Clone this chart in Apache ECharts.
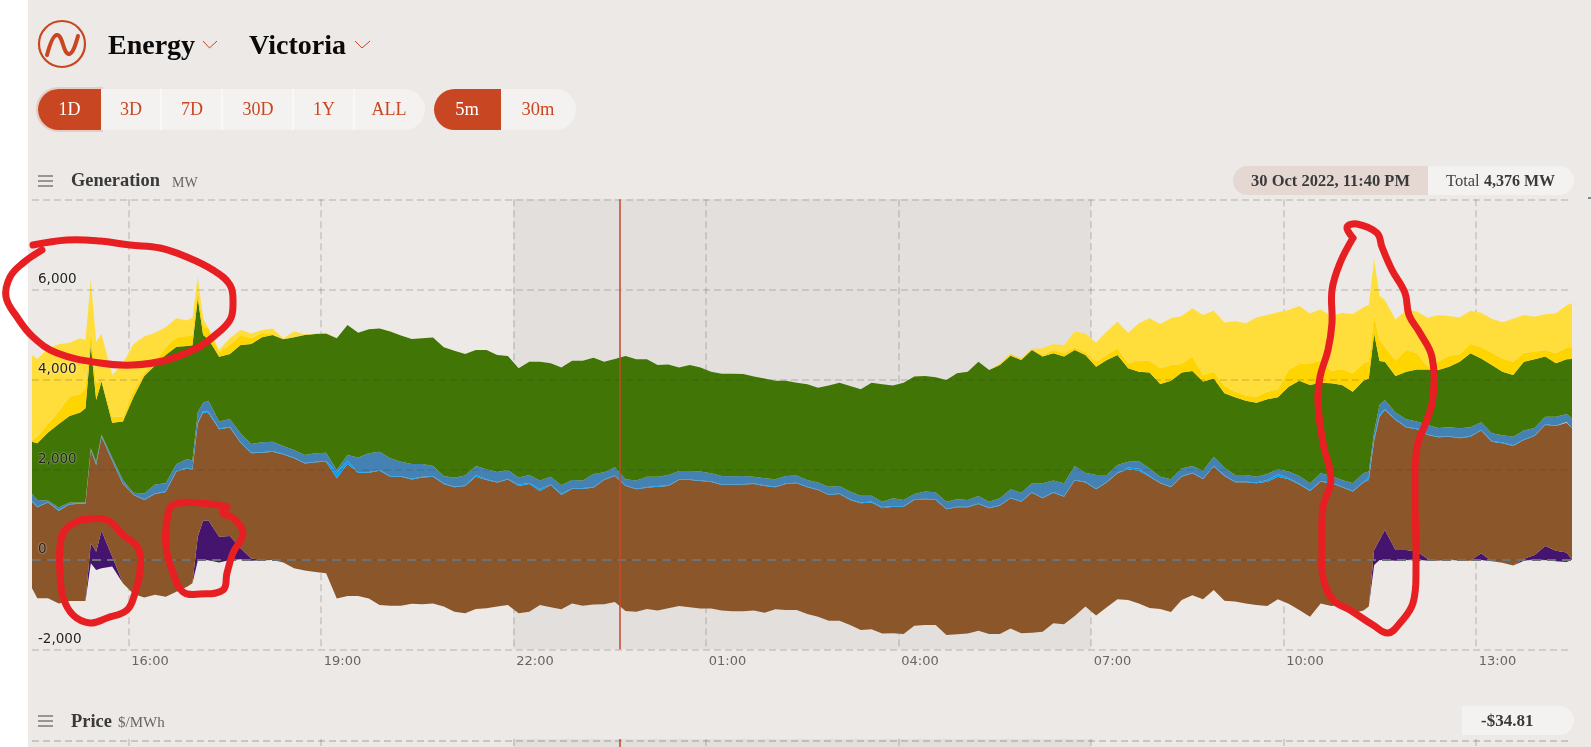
<!DOCTYPE html>
<html lang="en">
  <head>
    <meta charset="UTF-8" />
    <title>Energy Victoria</title>
    <style>
      html,
      body {
        margin: 0;
        width: 100%;
        height: 100%;
        background: #fff;
        overflow: hidden;
      }
      #chart {
        width: 1591px;
        height: 747px;
      }
    </style>
    <script src="https://cdn.jsdelivr.net/npm/echarts@6/dist/echarts.min.js"></script>
  </head>
  <body>
    <div id="chart"></div>
    <script>
      // 5 minute slots from 14:30 to 14:30 the next day
      const slots = []
      for (let i = 0; i <= 288; i++) {
        const m = (14 * 60 + 30 + i * 5) % 1440
        slots.push(String(Math.floor(m / 60)).padStart(2, '0') + ':' + String(m % 60).padStart(2, '0'))
      }
      // values were read every 10 minutes, on the odd slots, plus both ends and around the three spikes
      const readSlots = [0, 10, 12, 30, 32, 250, 252, 288]
      for (let i = 1; i < 288; i += 2) readSlots.push(i)
      readSlots.sort((a, b) => a - b)

      // lower edge of the whole stack (MW)
      const loadEdge = [
        -645, -867, -867, -980, -925, -925, -925, -90, -235, -200, -160, -530, -770, -850, -790, -830, -720, -610, -530, -30, -10, -20, -70, -15, 0, -30, -15, -15, -70, -200, -250, -280, -310, -870, -815, -815, -870, -1015, -1030,
        -1030, -990, -1000, -980, -1050, -1165, -1200, -1105, -1090, -1050, -1015, -1200, -1165, -1015, -1065, -1110, -980, -1030, -1005, -1000, -950, -1150, -1165, -1105, -1140, -1090, -1035, -1065, -1095, -1095, -1140, -1155, -1155, -1140, -1185, -1110, -1125, -1125,
        -1215, -1275, -1365, -1365, -1460, -1570, -1555, -1650, -1645, -1660, -1475, -1460, -1460, -1680, -1665, -1650, -1585, -1660, -1660, -1540, -1645, -1630, -1610, -1420, -1445, -1260, -1050, -1250, -1065, -890, -905, -980, -1080, -1105, -1170, -905, -800,
        -890, -680, -920, -940, -980, -1015, -1035, -890, -990, -1125, -1275, -980, -1035, -1015, -1200, -1140, -1050, -125, -15, -15, -30, -15, 0, -30, -30, 0, -30, -30, -15, -45, -75, -140, -30, 0, -15, -45, -60, -30
      ]
      // imports thickness
      const imports = [
        0, 0, 0, 0, 0, 0, 0, 445, 405, 835, 220, 0, 0, 0, 0, 0, 0, 0, 0, 530, 870, 880, 570, 535, 245, 50, 0, 0, 0, 0, 0, 0, 0, 0, 0, 0, 0, 0, 0,
        0, 0, 0, 0, 0, 0, 0, 0, 0, 0, 0, 0, 0, 0, 0, 0, 0, 0, 0, 0, 0, 0, 0, 0, 0, 0, 0, 0, 0, 0, 0, 0, 0, 0, 0, 0, 0, 0,
        0, 0, 0, 0, 0, 0, 0, 0, 0, 0, 0, 0, 0, 0, 0, 0, 0, 0, 0, 0, 0, 0, 0, 0, 0, 0, 0, 0, 0, 0, 0, 0, 0, 0, 0, 0, 0,
        0, 0, 0, 0, 0, 0, 0, 0, 0, 0, 0, 0, 0, 0, 0, 0, 0, 330, 445, 665, 235, 220, 170, 45, 0, 0, 0, 0, 150, 0, 0, 0, 40, 95, 310, 235, 210, 20
      ]
      // upper edge of brown coal
      const coalTop = [
        1280, 1155, 1260, 1080, 1220, 1235, 1235, 2430, 2095, 2725, 2190, 1675, 1430, 1320, 1450, 1495, 1950, 2020, 1985, 3020, 3265, 3245, 2890, 2930, 2590, 2355, 2370, 2390, 2330, 2245, 2130, 2155, 2170, 1800, 2120, 1925, 1925, 1970, 1835,
        1835, 1775, 1820, 1835, 1675, 1600, 1630, 1835, 1760, 1705, 1775, 1630, 1675, 1520, 1650, 1430, 1560, 1570, 1590, 1760, 1850, 1630, 1555, 1590, 1615, 1630, 1760, 1760, 1740, 1720, 1650, 1650, 1660, 1675, 1630, 1600, 1675, 1690,
        1600, 1540, 1430, 1450, 1320, 1245, 1260, 1135, 1170, 1170, 1320, 1335, 1320, 1110, 1155, 1155, 1230, 1135, 1190, 1355, 1280, 1480, 1355, 1480, 1390, 1750, 1705, 1555, 1705, 1910, 2000, 1970, 1835, 1690, 1600, 1835, 1910,
        1785, 2060, 1850, 1710, 1710, 1690, 1725, 1835, 1780, 1665, 1520, 1725, 1690, 1600, 1505, 1705, 1765, 2635, 3170, 3320, 3095, 2930, 2890, 2760, 2710, 2725, 2690, 2725, 2860, 2615, 2580, 2520, 2650, 2740, 2985, 2960, 3035, 2910
      ]
      // battery discharging thickness
      const battery = [
        15, 12, 12, 15, 10, 12, 12, 15, 15, 20, 15, 15, 10, 12, 15, 15, 20, 15, 15, 20, 25, 40, 15, 15, 10, 15, 10, 15, 12, 15, 10, 15, 15, 130, 70, 15, 15, 12, 15,
        12, 15, 12, 15, 15, 12, 10, 40, 20, 15, 12, 35, 20, 40, 15, 30, 15, 15, 10, 12, 15, 10, 15, 15, 12, 15, 12, 15, 12, 15, 12, 10, 15, 12, 15, 12, 15, 12,
        15, 12, 10, 15, 12, 15, 25, 30, 15, 12, 15, 12, 15, 15, 12, 15, 12, 15, 12, 15, 10, 15, 12, 15, 12, 15, 20, 15, 12, 15, 40, 45, 15, 12, 15, 12,
        15, 12, 15, 20, 15, 12, 25, 40, 60, 25, 15, 15, 12, 15, 15, 12, 15, 60, 45, 40, 15, 15, 12, 15, 12, 15, 10, 12, 15, 12, 15, 15, 12, 15, 12, 15, 12, 15
      ]
      // upper edge of hydro
      const hydroTop = [
        1450, 1320, 1305, 1150, 1260, 1260, 1275, 2470, 2170, 2770, 2260, 1760, 1480, 1460, 1660, 1690, 2110, 2230, 2190, 3270, 3480, 3525, 3060, 3120, 2800, 2560, 2600, 2615, 2520, 2430, 2320, 2355, 2370, 1985, 2320, 2265, 2355, 2390, 2245,
        2170, 2120, 2120, 2075, 1850, 1815, 1860, 2075, 2000, 1940, 1985, 1820, 1875, 1750, 1835, 1645, 1760, 1750, 1895, 1935, 2045, 1780, 1750, 1835, 1835, 1875, 1960, 1960, 1950, 1910, 1850, 1845, 1850, 1835, 1800, 1780, 1850, 1865,
        1765, 1705, 1615, 1630, 1505, 1415, 1415, 1280, 1355, 1320, 1450, 1505, 1490, 1280, 1335, 1320, 1405, 1280, 1355, 1555, 1480, 1690, 1690, 1750, 1690, 2075, 1925, 1875, 1875, 2095, 2170, 2185, 2020, 1835, 1780, 2020, 2075,
        1970, 2280, 2035, 1875, 1875, 1835, 1895, 2000, 1950, 1850, 1690, 1910, 1850, 1765, 1690, 1910, 1950, 2835, 3430, 3540, 3260, 3110, 3060, 2985, 2920, 2935, 2910, 2935, 3045, 2800, 2755, 2725, 2860, 2920, 3170, 3170, 3230, 3135
      ]
      // upper edge of wind
      const windTop = [
        2615, 2580, 2820, 3005, 3185, 3260, 3355, 4760, 3540, 3950, 3035, 3060, 3615, 4075, 4305, 4540, 4725, 4740, 4755, 5800, 4985, 4890, 4500, 4565, 4760, 4785, 4935, 4985, 4890, 4935, 4985, 5005, 5020, 4910, 5205, 5035, 5110, 5130, 5060,
        4975, 4895, 4910, 4930, 4710, 4635, 4560, 4650, 4650, 4540, 4520, 4245, 4390, 4390, 4355, 4260, 4415, 4415, 4480, 4390, 4450, 4520, 4445, 4445, 4320, 4330, 4260, 4320, 4260, 4170, 4125, 4125, 4120, 4060, 4020, 3970, 3970, 3925,
        3890, 3810, 3860, 3925, 3850, 3780, 3925, 3890, 3865, 3925, 4060, 4075, 4045, 3985, 4135, 4170, 4390, 4205, 4320, 4525, 4430, 4650, 4505, 4580, 4505, 4650, 4540, 4280, 4430, 4540, 4245, 4170, 4150, 3895, 3970, 4150, 4185,
        3950, 4020, 3690, 3600, 3525, 3480, 3555, 3600, 3835, 3970, 3875, 3925, 3910, 3875, 3725, 3970, 4020, 5020, 4405, 4390, 4075, 4170, 4220, 4220, 4205, 4280, 4390, 4580, 4465, 4320, 4170, 4095, 4390, 4445, 4505, 4355, 4445, 4450
      ]
      // upper edge of utility solar, 0 overnight
      const solarTop = [
        2650, 2725, 3020, 3280, 3615, 3675, 3800, 5060, 3910, 3990, 3170, 3170, 3750, 4150, 4390, 4710, 4930, 4960, 4985, 6000, 5170, 5130, 4600, 4760, 4985, 4910, 5035, 5000, 4900, 4945, 4995, 5015, 5030, 0, 0, 0, 0, 0, 0,
        0, 0, 0, 0, 0, 0, 0, 0, 0, 0, 0, 0, 0, 0, 0, 0, 0, 0, 0, 0, 0, 0, 0, 0, 0, 0, 0, 0, 0, 0, 0, 0, 0, 0, 0, 0, 0, 0,
        0, 0, 0, 0, 0, 0, 0, 0, 0, 0, 0, 0, 0, 0, 0, 0, 0, 0, 4340, 4560, 4455, 4675, 4530, 4650, 4580, 4700, 4600, 4390, 4540, 4690, 4355, 4415, 4415, 4245, 4320, 4340, 4505,
        4095, 4170, 3850, 3725, 3637, 3615, 3725, 3780, 4205, 4340, 4355, 4415, 4185, 4230, 4135, 4355, 4390, 5430, 4875, 4725, 4415, 4650, 4580, 4280, 4390, 4525, 4555, 4785, 4710, 4590, 4465, 4390, 4590, 4615, 4650, 4580, 4705, 4710
      ]
      // upper edge of rooftop solar, 0 overnight
      const rooftopTop = [
        4540, 4445, 4690, 4780, 4815, 4910, 4870, 6220, 4835, 5005, 4095, 4355, 4785, 4950, 5035, 5155, 5355, 5305, 5375, 6280, 5355, 5130, 4650, 4910, 5095, 5020, 5095, 5130, 4910, 5060, 5000, 5005, 5020, 0, 0, 0, 0, 0, 0,
        0, 0, 0, 0, 0, 0, 0, 0, 0, 0, 0, 0, 0, 0, 0, 0, 0, 0, 0, 0, 0, 0, 0, 0, 0, 0, 0, 0, 0, 0, 0, 0, 0, 0, 0, 0, 0, 0,
        0, 0, 0, 0, 0, 0, 0, 0, 0, 0, 0, 0, 0, 0, 0, 0, 0, 0, 4350, 4540, 4440, 4665, 4690, 4785, 4755, 5060, 5020, 4815, 5060, 5280, 5035, 5245, 5355, 5230, 5355, 5405, 5580,
        5430, 5525, 5260, 5295, 5245, 5375, 5430, 5490, 5540, 5630, 5465, 5555, 5400, 5480, 5450, 5600, 5650, 6665, 5850, 5760, 5330, 5540, 5505, 5370, 5430, 5405, 5375, 5525, 5480, 5345, 5270, 5345, 5430, 5390, 5445, 5470, 5645, 5690
      ]

      const yTicks = { min: -2000, max: 8000, interval: 2000 }
      const timeLabelFirst = 18
      const timeLabelStep = 36
      const nightStart = 90
      const nightEnd = 198
      const cursorSlot = 110

      // hand drawn red marks on top of the screenshot (page pixels)
      const redTopLeft = [[33, 245], [67, 240], [100, 241], [130, 245], [160, 248], [187, 257], [213, 270], [230, 285], [233, 303], [230, 320], [213, 337], [197, 348], [167, 360], [133, 365], [100, 363], [57, 353], [33, 337], [17, 317], [6, 297], [10, 277], [23, 263], [42, 250]]
      const redFirstDip = [[83, 520], [107, 520], [123, 535], [138, 548], [140, 570], [135, 593], [127, 610], [107, 618], [90, 623], [73, 615], [63, 597], [60, 573], [60, 547], [65, 530], [83, 519]]
      const redSecondDip = [[227, 507], [200, 503], [173, 505], [167, 520], [166, 547], [173, 573], [183, 592], [200, 594], [223, 590], [227, 573], [233, 553], [243, 533], [233, 518], [223, 513], [227, 507]]
      const redLastRise = [[1353, 238], [1347, 227], [1357, 224], [1377, 233], [1382, 247], [1392, 270], [1405, 293], [1409, 315], [1420, 333], [1432, 357], [1433, 397], [1427, 420], [1417, 447], [1415, 490], [1416, 567], [1413, 603], [1400, 623], [1388, 633], [1373, 625], [1350, 610], [1333, 600], [1323, 577], [1322, 550], [1323, 507], [1331, 480], [1323, 443], [1318, 403], [1320, 377], [1328, 350], [1332, 323], [1332, 290], [1340, 263], [1353, 238]]

      const running = loadEdge.slice()
      // thickness of a layer whose upper edge is given, on top of what is stacked so far
      function layerFromTop(top) {
        return top.map((v, i) => {
          const h = Math.max(0, v - running[i])
          running[i] += h
          return h
        })
      }
      function layerFromSize(size) {
        return size.map((h, i) => {
          running[i] += h
          return h
        })
      }
      const toPairs = (values) => values.map((v, i) => [readSlots[i], v])

      const layers = [
        { name: 'Imports', color: '#44146F', values: layerFromSize(imports) },
        { name: 'Coal (Brown)', color: '#8B572A', values: layerFromTop(coalTop) },
        { name: 'Battery (Discharging)', color: '#00A2FA', values: layerFromSize(battery) },
        { name: 'Hydro', color: '#4582B4', values: layerFromTop(hydroTop) },
        { name: 'Wind', color: '#417505', values: layerFromTop(windTop) },
        { name: 'Solar (Utility)', color: '#FED500', values: layerFromTop(solarTop) },
        { name: 'Solar (Rooftop)', color: '#FFDE3C', values: layerFromTop(rooftopTop) }
      ]

      const showTime = (i) => i >= timeLabelFirst && (i - timeLabelFirst) % timeLabelStep === 0
      const gridDash = { color: 'rgba(60,55,50,0.2)', width: 1.5, type: [7, 4] }
      const bandColor = '#E2DFDC'
      const accent = '#C84621'

      const series = [
        {
          name: 'Loads',
          type: 'line',
          stack: 'power',
          stackStrategy: 'all',
          showSymbol: false,
          lineStyle: { width: 0 },
          data: toPairs(loadEdge),
          silent: true,
          markArea: {
            silent: true,
            z: 1,
            itemStyle: { color: bandColor },
            data: [[{ xAxis: nightStart }, { xAxis: nightEnd }]]
          },
          z: 3
        }
      ]
      layers.forEach((l) => {
        series.push({
          name: l.name,
          type: 'line',
          stack: 'power',
          stackStrategy: 'all',
          showSymbol: false,
          lineStyle: { width: 0 },
          areaStyle: { color: l.color, opacity: 1 },
          data: toPairs(l.values),
          silent: true,
          z: 3
        })
      })
      series[series.length - 1].markLine = {
        silent: true,
        symbol: 'none',
        animation: false,
        label: { show: false },
        data: [
          { yAxis: 0, lineStyle: { color: '#6E7276', width: 2, type: [9, 6] } },
          { xAxis: cursorSlot, lineStyle: { color: '#C9472B', width: 1.5, type: 'solid' } }
        ]
      }
      // the price panel is cut off by the window, only its top few pixels show
      series.push({
        name: 'Price',
        type: 'line',
        xAxisIndex: 1,
        yAxisIndex: 1,
        data: [],
        silent: true,
        markArea: {
          silent: true,
          z: 1,
          itemStyle: { color: bandColor },
          data: [[{ xAxis: nightStart }, { xAxis: nightEnd }]]
        },
        markLine: {
          silent: true,
          symbol: 'none',
          animation: false,
          label: { show: false },
          data: [
            { yAxis: 93, lineStyle: { color: 'rgba(60,55,50,0.2)', width: 2, type: [7, 4] } },
            { xAxis: cursorSlot, lineStyle: { color: '#C9472B', width: 1.5, type: 'solid' } }
          ]
        }
      })

      const SERIF = '"Liberation Serif", serif'
      function label(x, y, text, font, fill, align) {
        return {
          type: 'text',
          z: 10,
          silent: true,
          style: { x, y, text, font, fill, align: align || 'left', verticalAlign: 'middle' }
        }
      }
      function box(x, y, width, height, r, fill, extra) {
        return {
          type: 'rect',
          z: 9,
          silent: true,
          shape: { x, y, width, height, r },
          style: Object.assign({ fill }, extra)
        }
      }
      function stroke(points, color, width) {
        return {
          type: 'polyline',
          z: 10,
          silent: true,
          shape: { points },
          style: { stroke: color, fill: null, lineWidth: width }
        }
      }
      function redMark(points) {
        return {
          type: 'polyline',
          z: 20,
          silent: true,
          shape: { points, smooth: 0.4 },
          style: { stroke: '#E71F22', fill: null, lineWidth: 7, lineCap: 'round', lineJoin: 'round' }
        }
      }
      function logoCurve(x1, y1, cpx1, cpy1, cpx2, cpy2, x2, y2) {
        return {
          type: 'bezierCurve',
          z: 10,
          silent: true,
          shape: { x1, y1, cpx1, cpy1, cpx2, cpy2, x2, y2 },
          style: { fill: null, stroke: accent, lineWidth: 4, lineCap: 'round' }
        }
      }
      function hamburger(y) {
        return [-5, 0, 5].map((d) => stroke([[38, y + d], [53, y + d]], '#5f5f5f', 1.2))
      }

      const elements = [
        { type: 'rect', z: -1, silent: true, shape: { x: 28, y: 0, width: 1563, height: 747 }, style: { fill: '#ECE9E6' } },
        // logo
        { type: 'circle', z: 10, silent: true, shape: { cx: 62, cy: 44, r: 23 }, style: { fill: null, stroke: accent, lineWidth: 2.2 } },
        logoCurve(47, 55, 51, 40, 54, 35, 57, 35),
        logoCurve(57, 35, 63, 35, 63, 54, 69, 54),
        logoCurve(69, 54, 73, 54, 76, 43, 78, 36),
        // title row
        label(108, 47, 'Energy', 'bold 28px ' + SERIF, '#0A0A0A'),
        stroke([[203, 41], [209.5, 48], [217, 41]], accent, 1),
        label(249, 47, 'Victoria', 'bold 28px ' + SERIF, '#0A0A0A'),
        stroke([[355, 41], [362, 48], [370, 41]], accent, 1),
        // range buttons
        box(36, 87, 67, 45, [22, 0, 0, 22], '#E5CDC6'),
        box(38, 89, 387, 41, 20.5, '#F4F2F0'),
        box(38, 89, 63, 41, [20.5, 0, 0, 20.5], accent, { z2: 2 }),
        stroke([[161, 89], [161, 130]], '#fff', 1),
        stroke([[222, 89], [222, 130]], '#fff', 1),
        stroke([[293, 89], [293, 130]], '#fff', 1),
        stroke([[354, 89], [354, 130]], '#fff', 1),
        label(69.5, 110, '1D', '18px ' + SERIF, '#fff', 'center'),
        label(131, 110, '3D', '18px ' + SERIF, accent, 'center'),
        label(192, 110, '7D', '18px ' + SERIF, accent, 'center'),
        label(258, 110, '30D', '18px ' + SERIF, accent, 'center'),
        label(324, 110, '1Y', '18px ' + SERIF, accent, 'center'),
        label(389, 110, 'ALL', '18px ' + SERIF, accent, 'center'),
        // interval buttons
        box(434, 89, 142, 41, 20.5, '#F4F2F0'),
        box(434, 89, 67, 41, [20.5, 0, 0, 20.5], accent, { z2: 2 }),
        label(467, 110, '5m', '18.5px ' + SERIF, '#fff', 'center'),
        label(538, 110, '30m', '18.5px ' + SERIF, accent, 'center'),
        // generation header
        ...hamburger(181),
        label(71, 181, 'Generation', 'bold 18.4px ' + SERIF, '#3A3A3A'),
        label(172, 183, 'MW', '14px ' + SERIF, '#666'),
        box(1233, 166, 195, 29, [14.5, 0, 0, 14.5], '#E5D8D3'),
        box(1428, 166, 146, 29, [0, 14.5, 14.5, 0], '#F4F2F0'),
        label(1251, 182, '30 Oct 2022, 11:40 PM', 'bold 16.5px ' + SERIF, '#3A3A3A'),
        label(1446, 182, 'Total', '16.5px ' + SERIF, '#444'),
        label(1484, 182, '4,376 MW', 'bold 16px ' + SERIF, '#3A3A3A'),
        stroke([[1588, 198], [1591, 198]], '#222', 1),
        // price header
        ...hamburger(721),
        label(71, 722, 'Price', 'bold 18.4px ' + SERIF, '#3A3A3A'),
        label(118, 723, '$/MWh', '15px ' + SERIF, '#666'),
        box(1462, 706, 112, 29, [0, 14.5, 14.5, 0], '#F4F2F0'),
        label(1481, 722, '-$34.81', 'bold 17px ' + SERIF, '#3A3A3A'),
        // red marks
        redMark(redTopLeft),
        redMark(redFirstDip),
        redMark(redSecondDip),
        redMark(redLastRise)
      ]

      const options = {
        animation: false,
        backgroundColor: '#fff',
        graphic: { elements },
        grid: [
          { left: 32, top: 199.3, width: 1540, height: 450 },
          { left: 32, top: 739, width: 1540, height: 100 }
        ],
        xAxis: [
          {
            type: 'category',
            data: slots,
            boundaryGap: false,
            z: 2,
            axisLine: { show: false },
            axisTick: { show: false },
            axisLabel: {
              interval: showTime,
              align: 'left',
              margin: 6,
              padding: [0, 0, 0, 3],
              color: '#666',
              fontFamily: 'DejaVu Sans',
              fontSize: 13
            },
            splitLine: { show: true, interval: showTime, lineStyle: gridDash }
          },
          {
            type: 'category',
            gridIndex: 1,
            data: slots,
            boundaryGap: false,
            z: 2,
            axisLine: { show: false },
            axisTick: { show: false },
            axisLabel: { show: false },
            splitLine: { show: true, interval: showTime, lineStyle: gridDash }
          }
        ],
        yAxis: [
          {
            type: 'value',
            min: yTicks.min,
            max: yTicks.max,
            interval: yTicks.interval,
            z: 5,
            axisLine: { show: false },
            axisTick: { show: false },
            axisLabel: {
              inside: true,
              margin: 6,
              verticalAlign: 'bottom',
              padding: [0, 0, 3, 0],
              color: '#222',
              fontFamily: 'DejaVu Sans',
              fontSize: 13.5,
              textShadowColor: 'rgba(255,255,255,0.85)',
              textShadowBlur: 2,
              formatter: (v) => (v === yTicks.max ? '' : v.toLocaleString('en-US'))
            },
            splitLine: { show: true, lineStyle: gridDash }
          },
          {
            type: 'value',
            gridIndex: 1,
            min: 0,
            max: 100,
            interval: 100,
            axisLine: { show: false },
            axisTick: { show: false },
            axisLabel: { show: false },
            splitLine: { show: false }
          }
        ],
        series
      }

      const chart = echarts.init(document.querySelector('#chart'))
      chart.setOption(options)
    </script>
  </body>
</html>
